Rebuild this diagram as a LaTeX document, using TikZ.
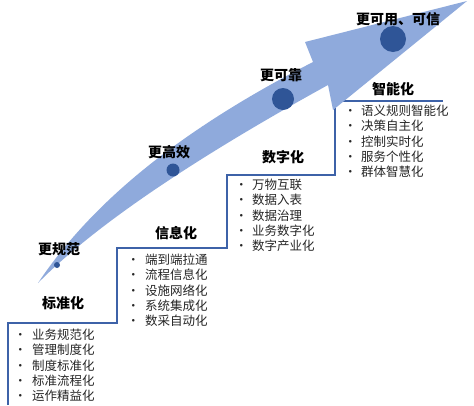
\documentclass[tikz,border=0pt]{standalone}
\usepackage{fontspec}
\setmainfont{Noto Sans CJK SC}
\usetikzlibrary{positioning}
\definecolor{arrowblue}{RGB}{143,170,220}
\definecolor{dotblue}{RGB}{47,85,151}
\definecolor{stairblue}{RGB}{61,98,168}
\definecolor{itemgray}{RGB}{38,38,38}

\begin{document}
\begin{tikzpicture}[x=1pt, y=-1pt,
    stage/.style={font=\fontsize{14}{16}\selectfont\bfseries, inner sep=0pt},
    item/.style={font=\fontsize{12.5}{14}\selectfont, text=itemgray, anchor=west, inner sep=0pt},
    dot/.style={circle, fill=dotblue, inner sep=0pt},
    stair/.style={draw=stairblue, line width=1.8pt}
  ]
  \useasboundingbox (0,0) rectangle (474,405);

  % staircase
  \draw[stair] (8,405) -- (8,323) -- (117,323) -- (117,248) -- (227,248)
    -- (227,175) -- (335,175) -- (335,101) -- (443,101);

  % rising arrow
  \fill[arrowblue] (38,283) .. controls (100,190) and (200,120) .. (313,62)
    -- (305,42) -- (467,1) -- (333,110) -- (328,85)
    .. controls (210,150) and (100,220) .. cycle;

  \node[dot, minimum size=6pt] (d1) at (57,265) {};
  \node[dot, minimum size=13pt] (d2) at (173,170) {};
  \node[dot, minimum size=22pt] (d3) at (283,99) {};
  \node[dot, minimum size=26pt] (d4) at (393,39) {};

  \node[stage] (g1) at (59,249) {更规范};
  \node[stage] (g2) at (169,152) {更高效};
  \node[stage] (g3) at (281,75) {更可靠};
  \node[stage] (g4) at (398,19) {更可用、可信};

  \node[stage] (s1) at (63,303) {标准化};
  \node[stage] (s2) at (176,233) {信息化};
  \node[stage] (s3) at (283,157) {数字化};
  \node[stage] (s4) at (393,89) {智能化};

  \foreach \t [count=\i] in {业务规范化,管理制度化,制度标准化,标准流程化,运作精益化}
    \node[item] (a\i) at (14,{335+15.2*(\i-1)}) {\makebox[18pt][l]{•}\t};
  \foreach \t [count=\i] in {端到端拉通,流程信息化,设施网络化,系统集成化,数采自动化}
    \node[item] (b\i) at (127,{260+15.2*(\i-1)}) {\makebox[18pt][l]{•}\t};
  \foreach \t [count=\i] in {万物互联,数据入表,数据治理,业务数字化,数字产业化}
    \node[item] (c\i) at (235,{185+15.2*(\i-1)}) {\makebox[17pt][l]{•}\t};
  \foreach \t [count=\i] in {语义规则智能化,决策自主化,控制实时化,服务个性化,群体智慧化}
    \node[item] (e\i) at (344,{111+15.2*(\i-1)}) {\makebox[17pt][l]{•}\t};
\end{tikzpicture}
\end{document}
